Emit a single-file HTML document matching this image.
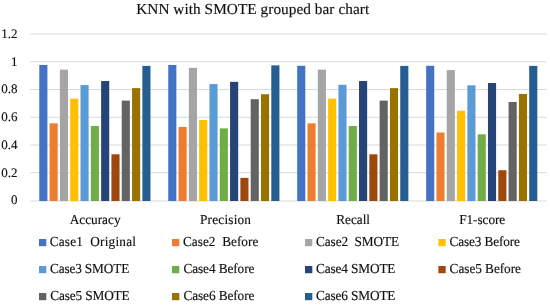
<!DOCTYPE html>
<html><head><meta charset="utf-8"><title>KNN with SMOTE grouped bar chart</title><style>html,body{margin:0;padding:0;background:#fff;overflow:hidden}svg{display:block}</style></head><body>
<svg width="550" height="306" viewBox="0 0 550 306">
<rect width="550" height="306" fill="#fff"/>
<rect x="30.20" y="172.25" width="516.40" height="1" fill="#d9d9d9"/>
<rect x="30.20" y="144.50" width="516.40" height="1" fill="#d9d9d9"/>
<rect x="30.20" y="116.75" width="516.40" height="1" fill="#d9d9d9"/>
<rect x="30.20" y="89.00" width="516.40" height="1" fill="#d9d9d9"/>
<rect x="30.20" y="61.25" width="516.40" height="1" fill="#d9d9d9"/>
<rect x="30.20" y="33.50" width="516.40" height="1" fill="#d9d9d9"/>
<rect x="30.20" y="200.50" width="516.40" height="1" fill="#d9d9d9"/>
<rect x="39.29" y="64.94" width="8.12" height="136.06" fill="#4472C4"/>
<rect x="49.59" y="123.35" width="8.12" height="77.65" fill="#ED7D31"/>
<rect x="59.90" y="69.66" width="8.12" height="131.34" fill="#A5A5A5"/>
<rect x="70.20" y="98.66" width="8.12" height="102.34" fill="#FFC000"/>
<rect x="80.51" y="85.06" width="8.12" height="115.94" fill="#5B9BD5"/>
<rect x="90.82" y="125.99" width="8.12" height="75.01" fill="#70AD47"/>
<rect x="101.12" y="81.04" width="8.12" height="119.96" fill="#264478"/>
<rect x="111.43" y="154.30" width="8.12" height="46.70" fill="#9E480E"/>
<rect x="121.74" y="100.60" width="8.12" height="100.40" fill="#636363"/>
<rect x="132.04" y="88.11" width="8.12" height="112.89" fill="#997300"/>
<rect x="142.35" y="65.91" width="8.12" height="135.09" fill="#255E91"/>
<rect x="168.24" y="64.94" width="8.12" height="136.06" fill="#4472C4"/>
<rect x="178.54" y="126.96" width="8.12" height="74.04" fill="#ED7D31"/>
<rect x="188.85" y="67.86" width="8.12" height="133.14" fill="#A5A5A5"/>
<rect x="199.15" y="120.03" width="8.12" height="80.97" fill="#FFC000"/>
<rect x="209.46" y="84.09" width="8.12" height="116.91" fill="#5B9BD5"/>
<rect x="219.77" y="128.35" width="8.12" height="72.65" fill="#70AD47"/>
<rect x="230.07" y="81.87" width="8.12" height="119.13" fill="#264478"/>
<rect x="240.38" y="177.88" width="8.12" height="23.12" fill="#9E480E"/>
<rect x="250.69" y="99.21" width="8.12" height="101.79" fill="#636363"/>
<rect x="260.99" y="94.22" width="8.12" height="106.78" fill="#997300"/>
<rect x="271.30" y="65.36" width="8.12" height="135.64" fill="#255E91"/>
<rect x="297.19" y="65.77" width="8.12" height="135.23" fill="#4472C4"/>
<rect x="307.49" y="123.35" width="8.12" height="77.65" fill="#ED7D31"/>
<rect x="317.80" y="69.66" width="8.12" height="131.34" fill="#A5A5A5"/>
<rect x="328.10" y="98.66" width="8.12" height="102.34" fill="#FFC000"/>
<rect x="338.41" y="84.78" width="8.12" height="116.22" fill="#5B9BD5"/>
<rect x="348.72" y="125.99" width="8.12" height="75.01" fill="#70AD47"/>
<rect x="359.02" y="81.04" width="8.12" height="119.96" fill="#264478"/>
<rect x="369.33" y="154.30" width="8.12" height="46.70" fill="#9E480E"/>
<rect x="379.64" y="100.60" width="8.12" height="100.40" fill="#636363"/>
<rect x="389.94" y="88.11" width="8.12" height="112.89" fill="#997300"/>
<rect x="400.25" y="65.91" width="8.12" height="135.09" fill="#255E91"/>
<rect x="426.14" y="65.77" width="8.12" height="135.23" fill="#4472C4"/>
<rect x="436.44" y="132.51" width="8.12" height="68.49" fill="#ED7D31"/>
<rect x="446.75" y="70.08" width="8.12" height="130.92" fill="#A5A5A5"/>
<rect x="457.05" y="110.73" width="8.12" height="90.27" fill="#FFC000"/>
<rect x="467.36" y="85.34" width="8.12" height="115.66" fill="#5B9BD5"/>
<rect x="477.67" y="134.32" width="8.12" height="66.68" fill="#70AD47"/>
<rect x="487.97" y="82.98" width="8.12" height="118.02" fill="#264478"/>
<rect x="498.28" y="170.25" width="8.12" height="30.75" fill="#9E480E"/>
<rect x="508.59" y="101.99" width="8.12" height="99.01" fill="#636363"/>
<rect x="518.89" y="93.94" width="8.12" height="107.06" fill="#997300"/>
<rect x="529.20" y="65.91" width="8.12" height="135.09" fill="#255E91"/>
<g text-rendering="geometricPrecision" font-family="'Liberation Serif', serif" fill="#111" stroke="#111" stroke-width="0.15">
<text x="17.6" y="204.40" text-anchor="end" font-size="13.0" transform="matrix(1 0 0 1.0 0 -0.000)">0</text>
<text x="17.6" y="176.65" text-anchor="end" font-size="13.0" transform="matrix(1 0 0 1.0 0 -0.000)">0.2</text>
<text x="17.6" y="148.90" text-anchor="end" font-size="13.0" transform="matrix(1 0 0 1.0 0 -0.000)">0.4</text>
<text x="17.6" y="121.15" text-anchor="end" font-size="13.0" transform="matrix(1 0 0 1.0 0 -0.000)">0.6</text>
<text x="17.6" y="93.40" text-anchor="end" font-size="13.0" transform="matrix(1 0 0 1.0 0 -0.000)">0.8</text>
<text x="17.6" y="65.65" text-anchor="end" font-size="13.0" transform="matrix(1 0 0 1.0 0 -0.000)">1</text>
<text x="17.6" y="37.90" text-anchor="end" font-size="13.0" transform="matrix(1 0 0 1.0 0 -0.000)">1.2</text>
<text x="136.20" y="14.00" font-size="15.3" textLength="232.93" lengthAdjust="spacing" xml:space="preserve">KNN with SMOTE grouped bar chart</text>
<text x="69.70" y="224.00" font-size="13.3" textLength="50.84" lengthAdjust="spacing" xml:space="preserve" transform="matrix(1 0 0 1.03 0 -6.720)">Accuracy</text>
<text x="200.00" y="224.00" font-size="13.3" textLength="51.0" lengthAdjust="spacing" xml:space="preserve" transform="matrix(1 0 0 1.03 0 -6.720)">Precision</text>
<text x="336.30" y="224.00" font-size="13.3" textLength="33.67" lengthAdjust="spacing" xml:space="preserve" transform="matrix(1 0 0 1.03 0 -6.720)">Recall</text>
<text x="459.20" y="224.00" font-size="13.3" textLength="46.03" lengthAdjust="spacing" xml:space="preserve" transform="matrix(1 0 0 1.03 0 -6.720)">F1-score</text>
<text x="49.70" y="246.20" font-size="13.3" textLength="86.27" lengthAdjust="spacing" xml:space="preserve" transform="matrix(1 0 0 1.03 0 -7.386)">Case1  Original</text>
<text x="183.00" y="246.20" font-size="13.3" textLength="75.33" lengthAdjust="spacing" xml:space="preserve" transform="matrix(1 0 0 1.03 0 -7.386)">Case2  Before</text>
<text x="316.00" y="246.20" font-size="13.3" textLength="83.22" lengthAdjust="spacing" xml:space="preserve" transform="matrix(1 0 0 1.03 0 -7.386)">Case2  SMOTE</text>
<text x="449.60" y="246.20" font-size="13.3" textLength="70.4" lengthAdjust="spacing" xml:space="preserve" transform="matrix(1 0 0 1.03 0 -7.386)">Case3 Before</text>
<text x="50.00" y="273.00" font-size="13.3" textLength="79.29" lengthAdjust="spacing" xml:space="preserve" transform="matrix(1 0 0 1.03 0 -8.190)">Case3 SMOTE</text>
<text x="183.40" y="273.00" font-size="13.3" textLength="71.0" lengthAdjust="spacing" xml:space="preserve" transform="matrix(1 0 0 1.03 0 -8.190)">Case4 Before</text>
<text x="316.00" y="273.00" font-size="13.3" textLength="79.49" lengthAdjust="spacing" xml:space="preserve" transform="matrix(1 0 0 1.03 0 -8.190)">Case4 SMOTE</text>
<text x="449.60" y="273.00" font-size="13.3" textLength="71.4" lengthAdjust="spacing" xml:space="preserve" transform="matrix(1 0 0 1.03 0 -8.190)">Case5 Before</text>
<text x="50.30" y="299.80" font-size="13.3" textLength="79.39" lengthAdjust="spacing" xml:space="preserve" transform="matrix(1 0 0 1.03 0 -8.994)">Case5 SMOTE</text>
<text x="183.40" y="299.80" font-size="13.3" textLength="71.0" lengthAdjust="spacing" xml:space="preserve" transform="matrix(1 0 0 1.03 0 -8.994)">Case6 Before</text>
<text x="316.00" y="299.80" font-size="13.3" textLength="79.49" lengthAdjust="spacing" xml:space="preserve" transform="matrix(1 0 0 1.03 0 -8.994)">Case6 SMOTE</text>
</g>
<rect x="39" y="239" width="7.3" height="7.2" fill="#4472C4"/>
<rect x="172" y="239" width="7.3" height="7.2" fill="#ED7D31"/>
<rect x="305" y="239" width="7.3" height="7.2" fill="#A5A5A5"/>
<rect x="438.4" y="239" width="7.3" height="7.2" fill="#FFC000"/>
<rect x="39" y="266" width="7.3" height="7.2" fill="#5B9BD5"/>
<rect x="172" y="266" width="7.3" height="7.2" fill="#70AD47"/>
<rect x="305" y="266" width="7.3" height="7.2" fill="#264478"/>
<rect x="438.4" y="266" width="7.3" height="7.2" fill="#9E480E"/>
<rect x="39" y="293" width="7.3" height="7.2" fill="#636363"/>
<rect x="172" y="293" width="7.3" height="7.2" fill="#997300"/>
<rect x="305" y="293" width="7.3" height="7.2" fill="#255E91"/>
</svg>
</body></html>
